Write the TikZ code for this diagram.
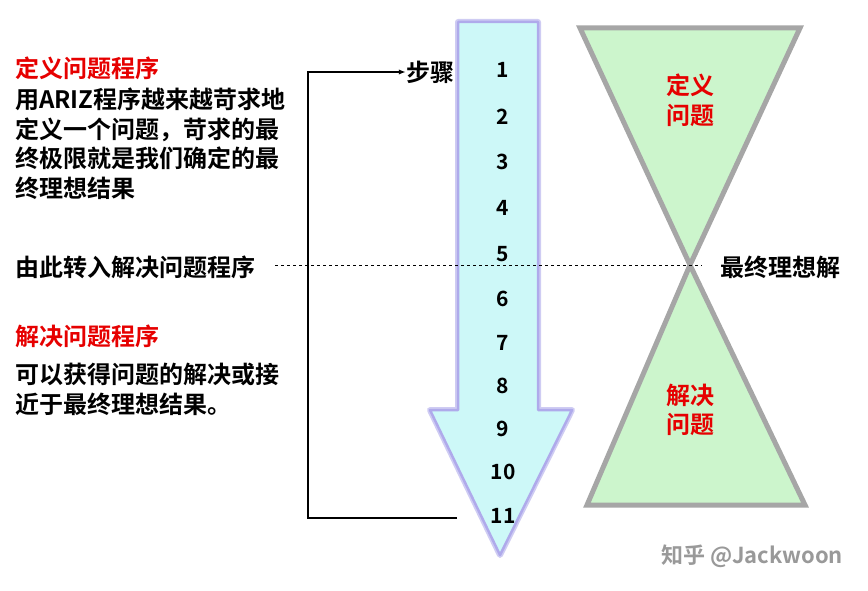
\documentclass[tikz,border=0pt]{standalone}
\usepackage{fontspec}
\setmainfont{Noto Sans CJK SC Bold}
\usetikzlibrary{arrows.meta}
\definecolor{redt}{RGB}{230,0,0}
\definecolor{shaft}{RGB}{205,248,248}
\definecolor{glow}{RGB}{175,170,235}
\definecolor{hg}{RGB}{204,245,204}
\tikzset{txt/.style={font=\fontsize{24}{29.5}\selectfont,anchor=west,inner sep=0pt,align=left},
 red/.style={txt,text=redt},
 num/.style={font=\fontsize{21}{22}\selectfont,inner sep=0pt}}
\begin{document}
\begin{tikzpicture}[x=1pt,y=-1pt]
\useasboundingbox (0,0) rectangle (868,591);
% arrow
\draw[line width=6pt,draw=glow!60,line join=round]
 (458,22) -- (538,22) -- (538,410) -- (572,410) -- (500,555) -- (430,410) -- (458,410) -- cycle;
\draw[line width=2.5pt,draw=glow,fill=shaft,line join=round]
 (458,22) -- (538,22) -- (538,410) -- (572,410) -- (500,555) -- (430,410) -- (458,410) -- cycle;
% hourglass
\begin{scope}[line width=5pt,draw=gray!70,line join=miter]
\draw[fill=hg] (580,28) -- (800,28) -- (690,265) -- cycle;
\draw[fill=hg] (690,265) -- (587,505) -- (805,505) -- cycle;
\end{scope}
% numbers
\foreach \n/\y in {1/70,2/117,3/162,4/208,5/254,6/299,7/343,8/386,9/429,10/472,11/516}
 \node[num] (n\n) at (503,\y) {\n};
\node[txt,anchor=center] (step) at (430,72) {步骤};
% bracket
\coordinate (b1) at (457,518);
\coordinate (b2) at (308,518);
\coordinate (b3) at (308,72);
\draw[line width=1.2pt,-{Latex[length=7pt]}] (b1) -- (b2) -- (b3) -- (step.west);
% dashed
\coordinate (d1) at (275,265);
\coordinate (d2) at (702,265);
\draw[dashed,line width=0.5pt] (d1) -- (d2);
% left texts
\node[red] (t1) at (15,68) {定义问题程序};
\node[txt,anchor=north west] (t2) at (15,88) {用ARIZ程序越来越苛求地\\定义一个问题，苛求的最\\终极限就是我们确定的最\\终理想结果};
\node[txt] (t3) at (15,267) {由此转入解决问题程序};
\node[red] (t4) at (15,336) {解决问题程序};
\node[txt,anchor=north west] (t5) at (15,363) {可以获得问题的解决或接\\近于最终理想结果。};
% right
\node[txt,anchor=center,align=center,text=redt] (h1) at (690,100) {定义\\问题};
\node[txt,anchor=center,align=center,text=redt] (h2) at (690,410) {解决\\问题};
\node[txt,anchor=center] (ideal) at (780,267) {最终理想解};
\node[font=\fontsize{22}{24}\selectfont,text=gray!80,anchor=center] (wm) at (752,556) {知乎 @Jackwoon};
\end{tikzpicture}
\end{document}
